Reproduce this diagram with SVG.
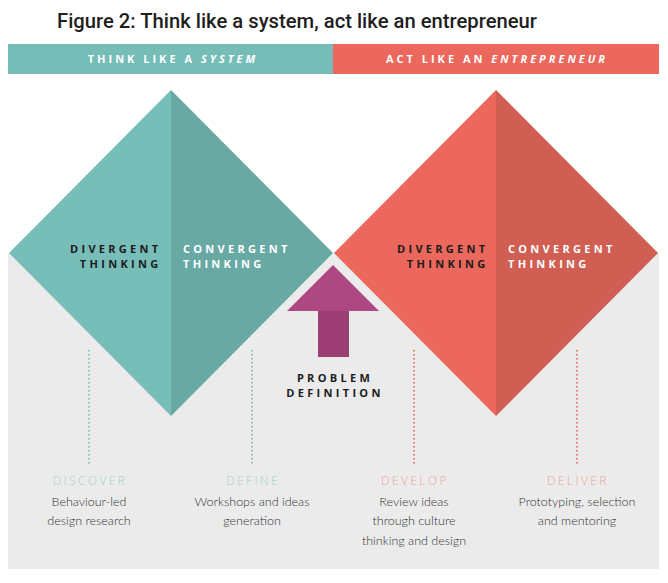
<svg xmlns="http://www.w3.org/2000/svg" width="668" height="583" viewBox="0 0 668 583">
<style>
.title{font-family:Roboto,"Liberation Sans",sans-serif;font-weight:500;font-size:19.5px;fill:#1e1e1e}
.hdr{font-family:"Open Sans","Liberation Sans",sans-serif;font-weight:700;font-size:11px;letter-spacing:3px;fill:#ffffff}
.cap{font-family:"Open Sans","Liberation Sans",sans-serif;font-weight:700;font-size:11px;letter-spacing:3.3px}
.dark{fill:#1c1c1c}
.white{fill:#ffffff}
.phase{font-family:"Open Sans","Liberation Sans",sans-serif;font-weight:300;font-size:12px;letter-spacing:2.4px;text-anchor:middle}
.desc{font-family:Lato,"Liberation Sans",sans-serif;font-weight:300;font-size:12.5px;fill:#333333;text-anchor:middle}
.dotT{stroke:#7bbdb8;stroke-width:1.8;stroke-dasharray:1.4 2.6;fill:none}
.dotR{stroke:#e66f63;stroke-width:1.8;stroke-dasharray:1.4 2.6;fill:none}
</style>
<rect width="668" height="583" fill="#ffffff"/>
<text class="title" x="57" y="28" textLength="480" lengthAdjust="spacingAndGlyphs">Figure 2: Think like a system, act like an entrepreneur</text>
<g id="header">
<rect x="8" y="44" width="325" height="30" fill="#77bdb7"/>
<rect x="333" y="44" width="326" height="30" fill="#ec675c"/>
<text class="hdr" x="173" y="63" text-anchor="middle">THINK LIKE A <tspan font-style="italic">SYSTEM</tspan></text>
<text class="hdr" x="497" y="63" text-anchor="middle">ACT LIKE AN <tspan font-style="italic">ENTREPRENEUR</tspan></text>
</g>
<rect id="background" x="8" y="253" width="651" height="316" fill="#ebebeb"/>
<g id="think-diamond">
<polygon points="171,90 9,253 171,416" fill="#77bdb8"/>
<polygon points="171,90 333,253 171,416" fill="#68a9a4"/>
<text class="cap dark" x="161.5" y="253" text-anchor="end">DIVERGENT</text>
<text class="cap dark" x="161.5" y="268" text-anchor="end">THINKING</text>
<text class="cap white" x="183" y="253">CONVERGENT</text>
<text class="cap white" x="183" y="268">THINKING</text>
</g>
<g id="act-diamond">
<polygon points="496,90 334,253 496,416" fill="#ec675c"/>
<polygon points="496,90 658,253 496,416" fill="#d05e52"/>
<text class="cap dark" x="488.5" y="253" text-anchor="end">DIVERGENT</text>
<text class="cap dark" x="488.5" y="268" text-anchor="end">THINKING</text>
<text class="cap white" x="508" y="253">CONVERGENT</text>
<text class="cap white" x="508" y="268">THINKING</text>
</g>
<g id="problem-definition">
<polygon points="333,265 287,311 379,311" fill="#ad4883"/>
<rect x="318" y="311" width="31" height="46" fill="#9c3e73"/>
<text class="cap dark" x="335" y="382" text-anchor="middle">PROBLEM</text>
<text class="cap dark" x="335" y="397" text-anchor="middle">DEFINITION</text>
</g>
<g id="connectors">
<line class="dotT" x1="89" y1="350" x2="89" y2="465"/>
<line class="dotT" x1="252" y1="350" x2="252" y2="465"/>
<line class="dotR" x1="414" y1="350" x2="414" y2="465"/>
<line class="dotR" x1="577" y1="350" x2="577" y2="465"/>
</g>
<g id="discover">
<text class="phase" x="90" y="485" fill="#a3d1cd">DISCOVER</text>
<text class="desc" x="89" y="506">Behaviour-led</text>
<text class="desc" x="89" y="525">design research</text>
</g>
<g id="define">
<text class="phase" x="253" y="485" fill="#a3d1cd">DEFINE</text>
<text class="desc" x="252" y="506">Workshops and ideas</text>
<text class="desc" x="252" y="525">generation</text>
</g>
<g id="develop">
<text class="phase" x="415" y="485" fill="#eba39b">DEVELOP</text>
<text class="desc" x="414" y="506">Review ideas</text>
<text class="desc" x="414" y="525">through culture</text>
<text class="desc" x="414" y="545">thinking and design</text>
</g>
<g id="deliver">
<text class="phase" x="578" y="485" fill="#eba39b">DELIVER</text>
<text class="desc" x="577" y="506">Prototyping, selection</text>
<text class="desc" x="577" y="525">and mentoring</text>
</g>
</svg>
